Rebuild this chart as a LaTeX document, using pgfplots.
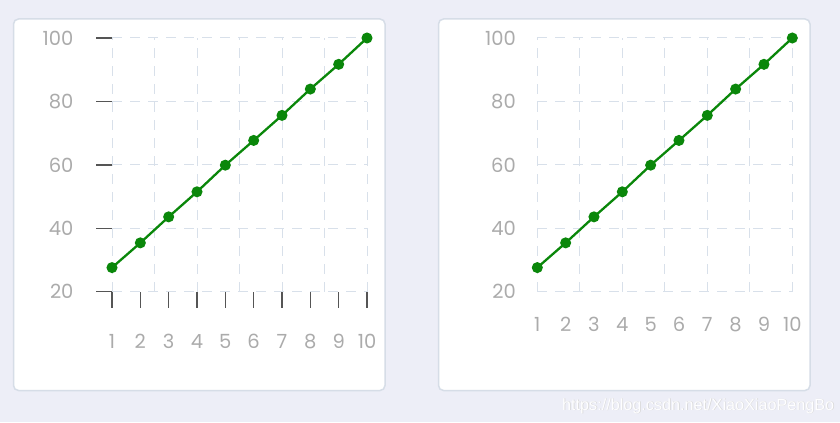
\documentclass[border=0pt]{standalone}
\usepackage{pgfplots}
\pgfplotsset{compat=1.18}
\usepackage{fontspec}
\setmainfont{Poppins}
\newfontfamily\wmfont{Liberation Sans}

\definecolor{pagebg}{HTML}{EDEEF7}
\definecolor{panelborder}{HTML}{D6DDE7}
\definecolor{gridcol}{HTML}{D8E0EA}
\definecolor{labelgray}{HTML}{ABABAB}
\definecolor{tickgray}{HTML}{555555}
\definecolor{linegreen}{HTML}{0A870A}

% values
\pgfplotstableread{
x y
1 27.6
2 35.4
3 43.6
4 51.5
5 59.9
6 67.7
7 75.6
8 83.9
9 91.7
10 100
}\datatable

\pgfplotsset{
  panel/.style={
    scale only axis,
    width=255bp, height=253.7bp,
    anchor=south west,
    xmin=1, xmax=10, ymin=20, ymax=100,
    enlargelimits=false,
    axis line style={draw=none},
    xtick={1,...,10}, ytick={20,40,...,100},
    minor xtick={1,2.5,4,5.5,7,8.5,10},
    xmajorgrids=false, xminorgrids=true, ymajorgrids=true,
    minor tick length=0pt,
    grid style={color=gridcol, line width=1bp, dash pattern=on 10bp off 8bp},
    minor grid style={color=gridcol, line width=1bp, dash pattern=on 10bp off 8bp},
    /pgf/number format/assume math mode=true,
    ticklabel style={font=\fontsize{19.5bp}{22bp}\selectfont, text=labelgray},
    clip=false,
  },
  greenline/.style={color=linegreen, line width=2.3bp, mark=*, mark size=4.3bp,
    mark options={fill=linegreen, draw=linegreen}},
}

\begin{document}
\begin{tikzpicture}[x=1bp, y=1bp]
\useasboundingbox (0,0) rectangle (840,422);
\fill[pagebg] (0,0) rectangle (840,422);
\filldraw[fill=white, draw=panelborder, line width=1.5bp, rounded corners=5bp] (13.5,31.5) rectangle (385,403);
\filldraw[fill=white, draw=panelborder, line width=1.5bp, rounded corners=5bp] (438.5,31.5) rectangle (810,403);

% left panel: with tick marks
\begin{axis}[panel,
  at={(112bp,130.3bp)},
  xtick pos=bottom, ytick pos=left,
  tick align=outside,
  major tick length=16bp,
  major tick style={color=tickgray, line width=1.5bp},
  yticklabel style={anchor=east, xshift=-19bp},
  xticklabel style={anchor=center, yshift=-34bp},
]
\addplot[greenline] table[x=x, y=y] {\datatable};
\end{axis}

% right panel: no tick marks
\begin{axis}[panel,
  at={(537.3bp,130.3bp)},
  major tick length=0pt,
  yticklabel style={anchor=east, xshift=-18bp},
  xticklabel style={anchor=center, yshift=-33bp},
]
\addplot[greenline] table[x=x, y=y] {\datatable};
\end{axis}

\node[anchor=base west, inner sep=0pt, text=black!16, font=\wmfont\fontsize{16.2bp}{18bp}\selectfont] at (562.6,11.4) {https://blog.csdn.net/XiaoXiaoPengBo};
\node[anchor=base west, inner sep=0pt, text=white!97!pagebg, font=\wmfont\fontsize{16.2bp}{18bp}\selectfont] at (562,12) {https://blog.csdn.net/XiaoXiaoPengBo};
\end{tikzpicture}
\end{document}
